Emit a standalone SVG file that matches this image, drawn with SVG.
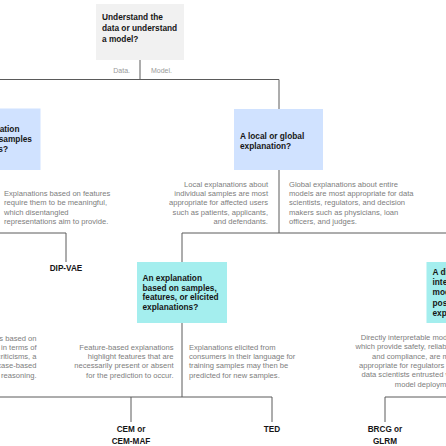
<svg xmlns="http://www.w3.org/2000/svg" width="446" height="446" viewBox="0 0 446 446">
<style>
.q{font-family:"Liberation Sans","Noto Sans",Arial,sans-serif;font-weight:bold;font-size:8.3px;fill:#161616}
.lbl{font-family:"Liberation Sans","Noto Sans",Arial,sans-serif;font-weight:bold;font-size:8.2px;fill:#161616;text-anchor:middle}
.note{font-family:"Liberation Sans","Noto Sans",Arial,sans-serif;font-size:7.6px;fill:#7d7d7d}
.end{text-anchor:end}
.branch{font-family:"Liberation Sans","Noto Sans",Arial,sans-serif;font-size:7px;fill:#9a9a9a}
.gray{fill:#f1f1f1}
.blue{fill:#d0e2ff}
.cyan{fill:#a4eeee}
.wire{fill:none;stroke:#5a5a5a;stroke-width:1}
</style>
<rect width="446" height="446" fill="#ffffff"/>
<g id="connectors">
<path class="wire" d="M140,60 V79.5 M0,79.5 H279 V109"/>
<path class="wire" d="M279,170 V233 M182,262 V233 H446"/>
<path class="wire" d="M0,233 H66 V262"/>
<path class="wire" d="M182,323 V397 M0,397 H272 V422 M131,397 V422"/>
<path class="wire" d="M385,422 V397 H446"/>
</g>
<g id="n-root">
<rect class="gray" x="96" y="4" width="88" height="56"/>
<text class="q" x="102" y="20">Understand the</text>
<text class="q" x="102" y="31">data or understand</text>
<text class="q" x="102" y="42">a model?</text>
</g>
<g id="branch-labels">
<text class="branch end" x="130" y="73">Data.</text>
<text class="branch" x="151" y="73">Model.</text>
</g>
<g id="n-samples-or-features">
<rect class="blue" x="-48" y="108.5" width="88.5" height="61.5"/>
<text class="q" x="-40" y="132">An explanation</text>
<text class="q" x="-40" y="142">based on samples</text>
<text class="q" x="-40" y="152">or features?</text>
</g>
<g id="n-local-global">
<rect class="blue" x="234" y="109" width="89" height="61"/>
<text class="q" x="240" y="138.5">A local or global</text>
<text class="q" x="240" y="149">explanation?</text>
</g>
<g id="note-features">
<text class="note" x="4" y="196">Explanations based on features</text>
<text class="note" x="4" y="205.3">require them to be meaningful,</text>
<text class="note" x="4" y="214.6">which disentangled</text>
<text class="note" x="4" y="223.9">representations aim to provide.</text>
</g>
<g id="note-local">
<text class="note end" x="268" y="186.7">Local explanations about</text>
<text class="note end" x="268" y="196">individual samples are most</text>
<text class="note end" x="268" y="205.3">appropriate for affected users</text>
<text class="note end" x="268" y="214.6">such as patients, applicants,</text>
<text class="note end" x="268" y="223.9">and defendants.</text>
</g>
<g id="note-global">
<text class="note" x="289" y="186.7">Global explanations about entire</text>
<text class="note" x="289" y="196">models are most appropriate for data</text>
<text class="note" x="289" y="205.3">scientists, regulators, and decision</text>
<text class="note" x="289" y="214.6">makers such as physicians, loan</text>
<text class="note" x="289" y="223.9">officers, and judges.</text>
</g>
<g id="n-dipvae">
<text class="lbl" x="66" y="271">DIP-VAE</text>
</g>
<g id="n-samples-features-elicited">
<rect class="cyan" x="137" y="262" width="90" height="61"/>
<text class="q" x="142.5" y="280.5">An explanation</text>
<text class="q" x="142.5" y="290.5">based on samples,</text>
<text class="q" x="142.5" y="300.3">features, or elicited</text>
<text class="q" x="142.5" y="310">explanations?</text>
</g>
<g id="n-direct-posthoc">
<rect class="cyan" x="426.5" y="262" width="90" height="61"/>
<text class="q" x="432.5" y="275">A directly</text>
<text class="q" x="432.5" y="285.2">interpretable</text>
<text class="q" x="432.5" y="295.4">model or</text>
<text class="q" x="432.5" y="305.6">post hoc</text>
<text class="q" x="432.5" y="315.8">explanation?</text>
</g>
<g id="note-samples">
<text class="note end" x="36.5" y="340.5">Explanations based on</text>
<text class="note end" x="36.5" y="349.8">samples are given in terms of</text>
<text class="note end" x="36.5" y="359.1">prototypes and criticisms, a</text>
<text class="note end" x="36.5" y="368.4">form of case-based</text>
<text class="note end" x="36.5" y="377.7">reasoning.</text>
</g>
<g id="note-feature-based">
<text class="note end" x="173.5" y="349.8">Feature-based explanations</text>
<text class="note end" x="173.5" y="359.1">highlight features that are</text>
<text class="note end" x="173.5" y="368.4">necessarily present or absent</text>
<text class="note end" x="173.5" y="377.7">for the prediction to occur.</text>
</g>
<g id="note-elicited">
<text class="note" x="189" y="349.8">Explanations elicited from</text>
<text class="note" x="189" y="359.1">consumers in their language for</text>
<text class="note" x="189" y="368.4">training samples may then be</text>
<text class="note" x="189" y="377.7">predicted for new samples.</text>
</g>
<g id="note-direct">
<text class="note end" x="459" y="340">Directly interpretable models,</text>
<text class="note end" x="459" y="349.3">which provide safety, reliability,</text>
<text class="note end" x="459" y="358.6">and compliance, are most</text>
<text class="note end" x="459" y="367.9">appropriate for regulators and</text>
<text class="note end" x="459" y="377.2">data scientists entrusted with</text>
<text class="note end" x="459" y="386.5">model deployment.</text>
</g>
<g id="n-cem">
<text class="lbl" x="131" y="432">CEM or</text>
<text class="lbl" x="131" y="443.5">CEM-MAF</text>
</g>
<g id="n-ted">
<text class="lbl" x="272" y="432">TED</text>
</g>
<g id="n-brcg">
<text class="lbl" x="385" y="432">BRCG or</text>
<text class="lbl" x="385" y="443.5">GLRM</text>
</g>
</svg>
